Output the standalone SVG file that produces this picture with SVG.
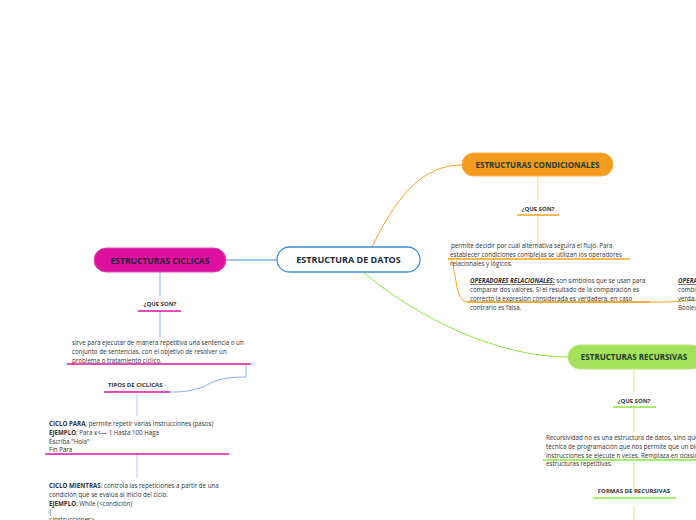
<svg xmlns="http://www.w3.org/2000/svg" width="696" height="520" viewBox="0 0 696 520">
<style>
text{font-family:"Open Sans","Noto Sans",sans-serif;fill:#333}
.t{font-size:6.2px}
.h{font-size:6px;font-weight:bold}
.n{font-size:9px;font-weight:bold;fill:#1d2b3a;text-anchor:middle}
.c{fill:none;stroke-width:1}
</style>
<rect width="696" height="520" fill="#fff"/>
<g id="connectors" class="c">
<path d="M372 247 C395 200 420 165 462 165" stroke="#f7a21e"/>
<path d="M363 272 C420 320 500 357 568 357" stroke="#8ee63a"/>
<path d="M277 260 H226" stroke="#3d8fd9"/>
<path d="M538 176 V200 M538 215 V244" stroke="#ffd39a"/>
<path d="M448 259 C455 259 452 268 455 275 C458 295 460 302 470 302 H650 C670 302 680 302 696 300" stroke="#f7a21e"/>
<path d="M160 272 V296 M160 311 V337" stroke="#8fa8f5"/>
<path d="M246 364 V377 C225 377 215 380 205 386 C190 392 180 392 170 392" stroke="#8fa8f5"/>
<path d="M137 393 V416 M137 455 V478" stroke="#b7c8f8"/>
<path d="M634 369 V392 M634 407 V433 M634 462 V490 M634 506 V520" stroke="#c5f38a"/>
</g>
<g id="root"><rect x="277" y="247" width="143" height="25" rx="12.5" fill="#fff" stroke="#3d8fd9" stroke-width="1.3"/><text class="n" x="348.5" y="263">ESTRUCTURA DE DATOS</text></g>
<g id="cond"><rect x="462" y="153" width="151" height="23" rx="11.5" fill="#f39c1f" stroke="#f8b04a"/><text class="n" x="537.5" y="168" style="font-size:8px;fill:#1d3a2b">ESTRUCTURAS CONDICIONALES</text></g>
<g id="cond-q"><text class="h" x="538" y="211" text-anchor="middle">¿QUE SON?</text><path d="M517 215 H559" stroke="#f7a21e" stroke-width="1.3"/></g>
<g id="cond-def"><text class="t" x="451" y="248">permite decidir por cuál alternativa seguirá el flujo. Para</text><text class="t" x="450" y="257">establecer condiciones complejas se utilizan los operadores</text><text class="t" x="450" y="266">relacionales y lógicos.</text><path d="M448 259 H630" stroke="#f7a21e" stroke-width="1.3"/></g>
<g id="op-rel"><text class="t" x="470" y="283"><tspan font-weight="bold" font-style="italic" text-decoration="underline">OPERADORES RELACIONALES:</tspan>  son símbolos que se usan para</text><text class="t" x="470" y="292">comparar dos valores. Si el resultado de la comparación es</text><text class="t" x="470" y="301">correcto la expresión considerada es verdadera, en caso</text><text class="t" x="470" y="310">contrario es falsa.</text><path d="M467 302 H650" stroke="#f7a21e" stroke-width="1.3"/></g>
<g id="op-log"><text class="t" x="678" y="283" font-weight="bold" font-style="italic" text-decoration="underline">OPERA</text><text class="t" x="678" y="292">combi</text><text class="t" x="678" y="301">verda</text><text class="t" x="678" y="310">Boolea</text></g>
<g id="cic"><rect x="94" y="248" width="132" height="24" rx="12" fill="#e0109f" stroke="#e84db8"/><text class="n" x="160" y="264" style="font-size:8.5px;fill:#2a1a3a">ESTRUCTURAS CICLICAS</text></g>
<g id="cic-q"><text class="h" x="160" y="306" text-anchor="middle">¿QUE SON?</text><path d="M138 311 H181" stroke="#e0109f" stroke-width="1.3"/></g>
<g id="cic-def"><text class="t" x="72" y="345">sirve para ejecutar de manera repetitiva una sentencia o un</text><text class="t" x="72" y="354">conjunto de sentencias, con el objetivo de resolver un</text><text class="t" x="72" y="363">problema o tratamiento cíclico.</text><path d="M67 364 H251" stroke="#e0109f" stroke-width="1.3"/></g>
<g id="tipos"><text class="h" x="108" y="387">TIPOS DE CICLICAS</text><path d="M104 392 H170" stroke="#e0109f" stroke-width="1.3"/></g>
<g id="para"><text class="t" x="49" y="426"><tspan font-weight="bold">CICLO PARA</tspan>; permite repetir varias instrucciones (pasos)</text><text class="t" x="49" y="435"><tspan font-weight="bold">EJEMPLO</tspan>; Para x&lt;— 1 Hasta 100 Haga</text><text class="t" x="49" y="444">Escriba "Hola"</text><text class="t" x="49" y="452">Fin Para</text><path d="M45 454 H229" stroke="#e0109f" stroke-width="1.3"/></g>
<g id="mientras"><text class="t" x="49" y="488"><tspan font-weight="bold">CICLO MIENTRAS</tspan>: controla las repeticiones a partir de una</text><text class="t" x="49" y="497">condición que se evalúa al inicio del ciclo.</text><text class="t" x="49" y="506"><tspan font-weight="bold">EJEMPLO</tspan>: While (&lt;condición)</text><text class="t" x="49" y="514">{</text><text class="t" x="49" y="522">&lt;instrucciones&gt;</text></g>
<g id="rec"><rect x="568" y="345" width="135" height="24" rx="12" fill="#a4e05a" stroke="#b8ea7a"/><text class="n" x="634" y="360" style="font-size:8px;fill:#1d3a2b">ESTRUCTURAS RECURSIVAS</text></g>
<g id="rec-q"><text class="h" x="634" y="403" text-anchor="middle">¿QUE SON?</text><path d="M613 407 H656" stroke="#8ee63a" stroke-width="1.3"/></g>
<g id="rec-def"><text class="t" x="546" y="440">Recursividad no es una estructura de datos, sino que es una</text><text class="t" x="546" y="449">técnica de programación que nos permite que un bloque de</text><text class="t" x="546" y="458">instrucciones se ejecute n veces. Remplaza en ocasiones a</text><text class="t" x="546" y="466">estructuras repetitivas.</text><path d="M543 460 H696" stroke="#8ee63a" stroke-width="1.3"/></g>
<g id="formas"><text class="h" x="634" y="493" text-anchor="middle">FORMAS DE RECURSIVAS</text><path d="M593 498 H676" stroke="#8ee63a" stroke-width="1.3"/></g>
</svg>
